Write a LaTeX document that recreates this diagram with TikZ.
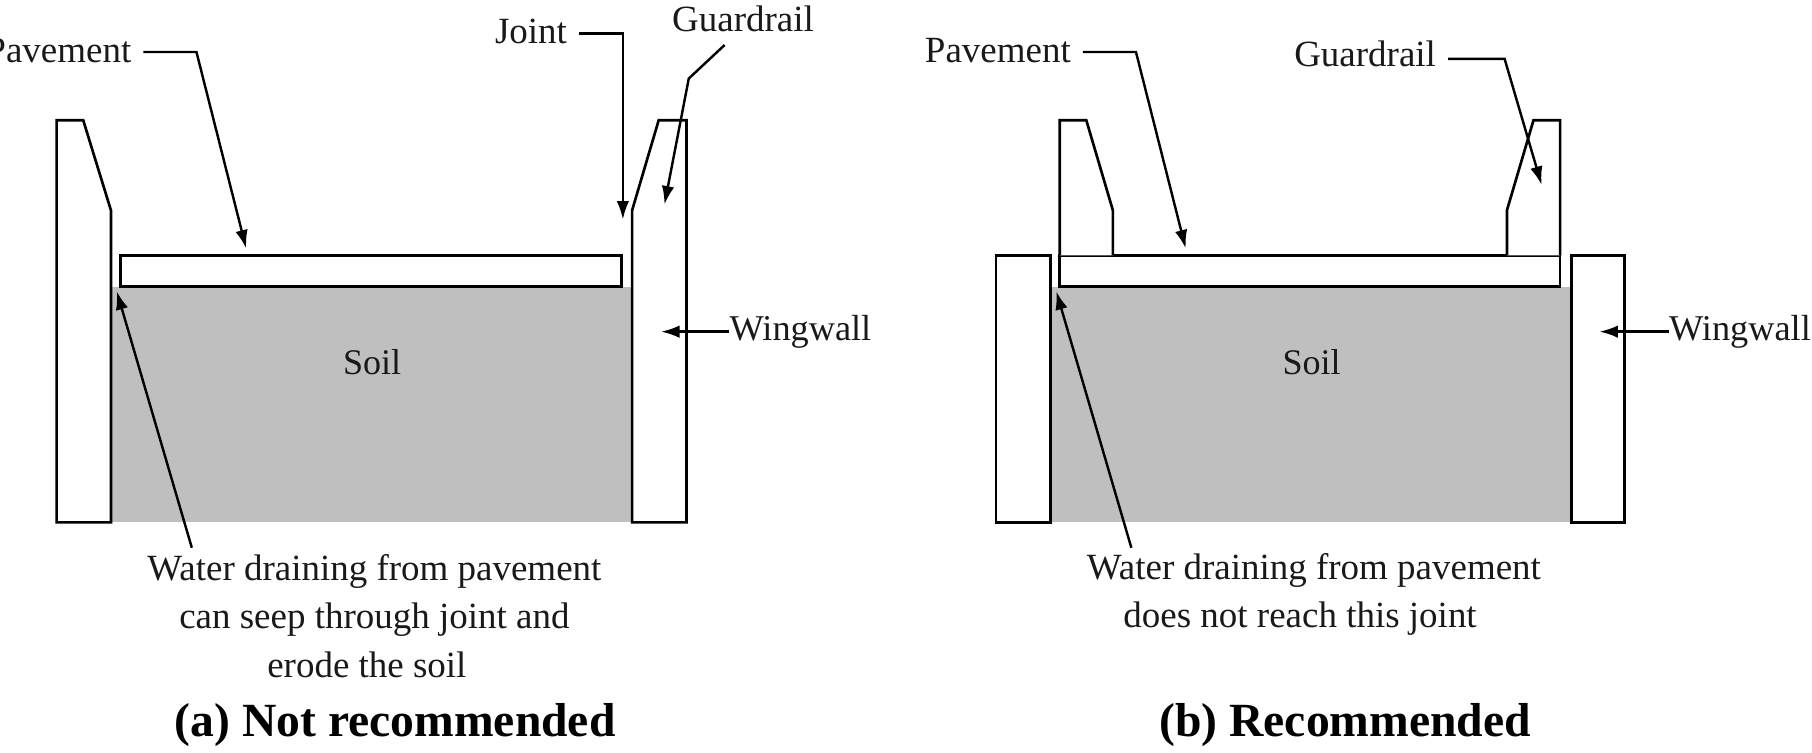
\documentclass[tikz,border=0pt]{standalone}
\usepackage{fontspec}
\setmainfont{Liberation Serif}
\usetikzlibrary{arrows.meta}
\definecolor{soilgrey}{RGB}{191,191,191}
\tikzset{
  x=0.5pt,y=-0.5pt,
  wall/.style={draw=black,fill=white,line width=1.15pt,line join=miter,outer sep=0pt},
  soilfill/.style={fill=soilgrey,draw=none},
  lbl/.style={font=\fontsize{16}{18}\selectfont,inner ysep=0pt,inner xsep=5pt,text=black!90},
  winglbl/.style={font=\fontsize{15.7}{18}\selectfont,inner sep=0pt,text=black!90},
  capt/.style={font=\fontsize{16}{18}\selectfont,align=center,inner sep=0pt,text=black!90},
  ttl/.style={font=\bfseries\fontsize{20.6}{24}\selectfont,inner sep=0pt},
  lead/.style={draw=black,line width=1.05pt,-{Latex[length=8pt,width=5.4pt]}}
}
\begin{document}
\begin{tikzpicture}
\useasboundingbox (0,0) rectangle (1568,651.6);
% ---- panel (a)
\fill[soilfill] (96,248) rectangle (547,452);
\draw[wall] (49,104) -- (72,104) -- (96,182) -- (96,452) -- (49,452) -- cycle;
\draw[wall] (570,104) -- (594,104) -- (594,452) -- (547,452) -- (547,182) -- cycle;
\node[wall,minimum width=217pt,minimum height=13.5pt,inner sep=0pt,anchor=north west] (pavea) at (104,221) {};
\node[font=\fontsize{15.6}{18}\selectfont,text=black!90,inner sep=0pt] (soila) at (322,313) {Soil};
\node[lbl,anchor=east] (plabela) at (124,44) {Pavement};
\node[lbl,anchor=east] (jlabel) at (501,27) {Joint};
\node[lbl,inner xsep=0pt] (glabela) at (643,16) {Guardrail};
\node[winglbl,anchor=west] (wlabela) at (631,287) {Wingwall};
\node[capt] (capa) at (324,533) {Water draining from pavement\\[3.0pt]can seep through joint and\hspace*{3pt}\\[3.0pt]erode the soil\hspace*{6.5pt}};
\node[ttl] (titlea) at (342,627) {(a) Not recommended};
\coordinate (pbenda) at (170,45);
\coordinate (ptipa) at (213,215);
\coordinate (jbend) at (539,29);
\coordinate (jtip) at (539,190);
\coordinate (gstarta) at (627,39);
\coordinate (gbenda) at (596,68);
\coordinate (gtipa) at (575,177);
\coordinate (wtipa) at (572,287);
\coordinate (dstarta) at (166,474);
\coordinate (dtipa) at (101,252);
\draw[lead] (plabela.east |- pbenda) -- (pbenda) -- (ptipa);
\draw[lead] (jlabel.east |- jbend) -- (jbend) -- (jtip);
\draw[lead] (gstarta) -- (gbenda) -- (gtipa);
\draw[lead] (wlabela.west) -- (wtipa);
\draw[lead] (dstarta) -- (dtipa);
% ---- panel (b)
\fill[soilfill] (909,248) rectangle (1360,452);
\node[wall,minimum width=23.5pt,minimum height=115.5pt,inner sep=0pt,anchor=north west] (wingl) at (862,221) {};
\node[wall,minimum width=23pt,minimum height=115.5pt,inner sep=0pt,anchor=north west] (wingr) at (1360,221) {};
\node[wall,minimum width=216.5pt,minimum height=13.5pt,inner sep=0pt,anchor=north west] (paveb) at (917,221) {};
\draw[wall] (917,221) -- (917,104) -- (940,104) -- (963,182) -- (963,221);
\draw[wall] (1304,221) -- (1304,182) -- (1327,104) -- (1350,104) -- (1350,221);
\node[font=\fontsize{15.6}{18}\selectfont,text=black!90,inner sep=0pt] (soilb) at (1135,313) {Soil};
\node[lbl,anchor=east] (plabelb) at (937,44) {Pavement};
\node[lbl,anchor=east] (glabelb) at (1253,47) {Guardrail};
\node[winglbl,anchor=west] (wlabelb) at (1444,287) {Wingwall};
\node[capt,anchor=north] (capb) at (1137,478.5) {Water draining from pavement\\[3.0pt]does not reach this joint\hspace*{12pt}};
\node[ttl] (titleb) at (1164,627) {(b) Recommended};
\coordinate (pbendb) at (983,45);
\coordinate (ptipb) at (1026,215);
\coordinate (gbendb) at (1302,51);
\coordinate (gtipb) at (1334,160);
\coordinate (wtipb) at (1384,287);
\coordinate (dstartb) at (979,474);
\coordinate (dtipb) at (914,252);
\draw[lead] (plabelb.east |- pbendb) -- (pbendb) -- (ptipb);
\draw[lead] (glabelb.east |- gbendb) -- (gbendb) -- (gtipb);
\draw[lead] (wlabelb.west) -- (wtipb);
\draw[lead] (dstartb) -- (dtipb);
\end{tikzpicture}
\end{document}
